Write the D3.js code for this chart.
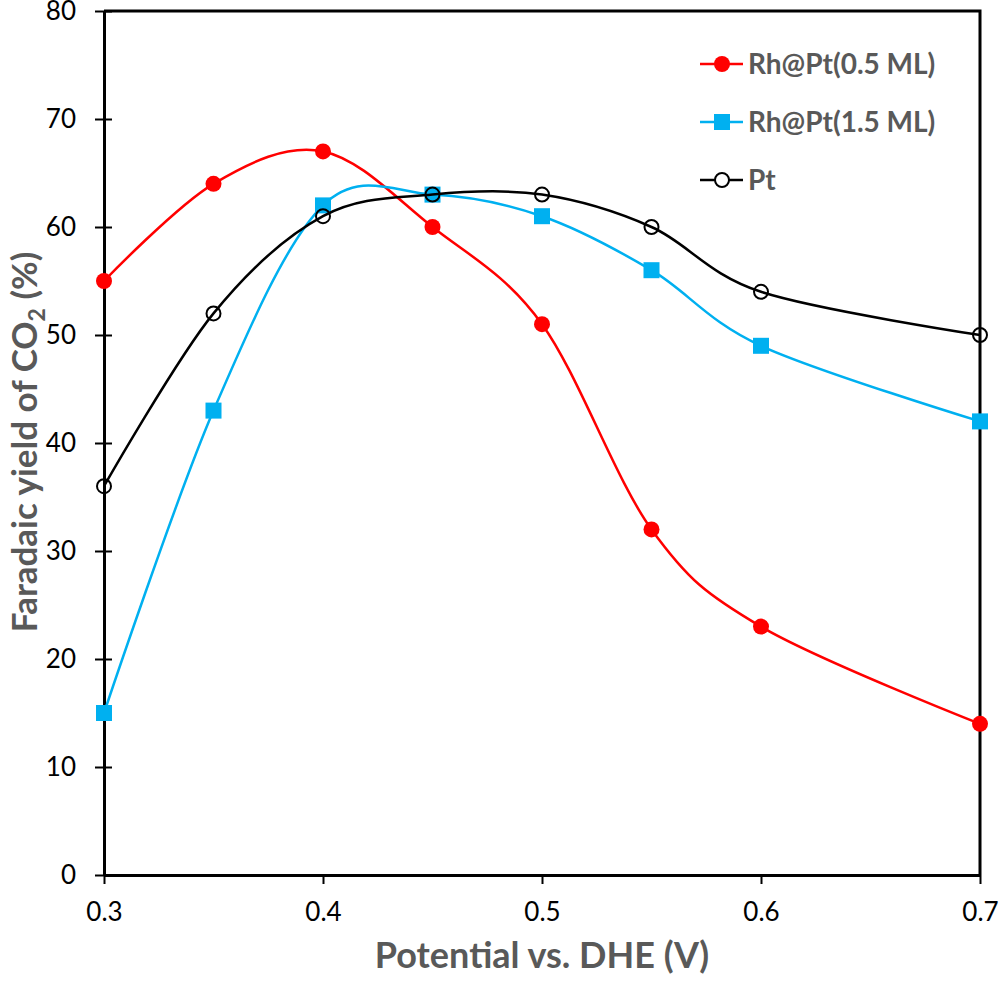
<!DOCTYPE html>
<html>
<head>
<meta charset="utf-8">
<script src="https://cdn.jsdelivr.net/npm/d3@7"></script>
<style>
  body { margin: 0; background: #fff; }
  svg { display: block; }
</style>
</head>
<body>
<div id="chart"></div>
<script>
// Data
const potentials = [0.3, 0.35, 0.4, 0.45, 0.5, 0.55, 0.6, 0.7];
const rh05 = [55, 64, 67, 60, 51, 32, 23, 14];
const rh15 = [15, 43, 62, 63, 61, 56, 49, 42];
const pt = [36, 52, 61, 63, 63, 60, 54, 50];
const xTicks = [0.3, 0.4, 0.5, 0.6, 0.7];
const yTicks = [0, 10, 20, 30, 40, 50, 60, 70, 80];
const seriesNames = ["Rh@Pt(0.5 ML)", "Rh@Pt(1.5 ML)", "Pt"];

// Sizes
const w = 999;
const h = 982;
const margin = {left: 104, top: 11, right: 19, bottom: 107};
const pw = w - margin.left - margin.right;
const ph = h - margin.top - margin.bottom;

const svg = d3.select("#chart").append("svg")
              .attr("width", w)
              .attr("height", h);

const xScale = d3.scaleLinear().domain([0.3, 0.7]).range([margin.left, margin.left + pw]);
const yScale = d3.scaleLinear().domain([0, 80]).range([margin.top + ph, margin.top]);

const font = "Lato, 'Open Sans', sans-serif";

// plot box (top and right border)
svg.append("path")
   .attr("d", "M" + margin.left + "," + margin.top + "H" + (margin.left + pw) + "V" + (margin.top + ph))
   .attr("fill", "none")
   .attr("stroke", "#000")
   .attr("stroke-width", 3);

// x axis
const xAxis = d3.axisBottom(xScale)
                .tickValues(xTicks)
                .tickFormat(d3.format(".1f"))
                .tickSizeOuter(0)
                .tickSizeInner(9)
                .tickPadding(19);
const gx = svg.append("g")
   .attr("transform", "translate(0," + (margin.top + ph) + ")")
   .call(xAxis);
gx.select(".domain").attr("stroke-width", 3);
gx.selectAll(".tick line").attr("stroke-width", 2);
gx.selectAll(".tick text")
  .style("font-family", font)
  .style("font-size", "26px")
  .attr("fill", "#000");

// y axis, ticks cross the axis line
const yAxis = d3.axisLeft(yScale)
                .tickValues(yTicks)
                .tickSizeOuter(0)
                .tickSizeInner(9)
                .tickPadding(19);
const gy = svg.append("g")
   .attr("transform", "translate(" + margin.left + ",0)")
   .call(yAxis);
gy.select(".domain").attr("stroke-width", 3);
gy.selectAll(".tick line").attr("x1", 8).attr("stroke-width", 2);
gy.selectAll(".tick text")
  .style("font-family", font)
  .style("font-size", "26px")
  .attr("fill", "#000");

// axis titles
svg.append("text")
   .attr("x", margin.left + pw / 2)
   .attr("y", 968)
   .attr("text-anchor", "middle")
   .attr("fill", "#595959")
   .style("font-family", font)
   .style("font-weight", "bold")
   .style("font-size", "36px")
   .text("Potential vs. DHE (V)");

const yTitle = svg.append("text")
   .attr("transform", "translate(37," + (margin.top + ph / 2 - 1) + ") rotate(-90)")
   .attr("text-anchor", "middle")
   .attr("fill", "#595959")
   .style("font-family", font)
   .style("font-weight", "bold")
   .style("font-size", "35px");
yTitle.append("tspan").text("Faradaic yield of CO");
yTitle.append("tspan").attr("dy", 8).style("font-size", "23px").text("2");
yTitle.append("tspan").attr("dy", -8).text(" (%)");

// lines (Excel style smoothing)
const line = d3.line()
               .x((d, i) => xScale(potentials[i]))
               .y(d => yScale(d))
               .curve(d3.curveCardinal.tension(0));

// red circles
svg.append("path")
   .attr("d", line(rh05))
   .attr("fill", "none")
   .attr("stroke", "#ff0000")
   .attr("stroke-width", 2.5);
svg.append("g").selectAll("circle")
   .data(rh05)
   .enter()
   .append("circle")
   .attr("cx", (d, i) => xScale(potentials[i]))
   .attr("cy", d => yScale(d))
   .attr("r", 8)
   .attr("fill", "#ff0000");

// blue squares
svg.append("path")
   .attr("d", line(rh15))
   .attr("fill", "none")
   .attr("stroke", "#00b0f0")
   .attr("stroke-width", 2.5);
svg.append("g").selectAll("rect")
   .data(rh15)
   .enter()
   .append("rect")
   .attr("x", (d, i) => xScale(potentials[i]) - 8)
   .attr("y", d => yScale(d) - 8)
   .attr("width", 16)
   .attr("height", 16)
   .attr("fill", "#00b0f0");

// black open circles
svg.append("path")
   .attr("d", line(pt))
   .attr("fill", "none")
   .attr("stroke", "#000")
   .attr("stroke-width", 2.5);
svg.append("g").selectAll("circle")
   .data(pt)
   .enter()
   .append("circle")
   .attr("cx", (d, i) => xScale(potentials[i]))
   .attr("cy", d => yScale(d))
   .attr("r", 7)
   .attr("fill", "none")
   .attr("stroke", "#000")
   .attr("stroke-width", 2);

// legend
const legendColors = ["#ff0000", "#00b0f0", "#000"];
const legendY = [64, 122, 180];
const legend = svg.append("g");
seriesNames.forEach((name, i) => {
    const g = legend.append("g").attr("transform", "translate(700," + legendY[i] + ")");
    g.append("line")
     .attr("x1", 0).attr("x2", 43)
     .attr("stroke", legendColors[i])
     .attr("stroke-width", 2.5);
    if (i === 0)
        g.append("circle").attr("cx", 22).attr("r", 8).attr("fill", legendColors[i]);
    else if (i === 1)
        g.append("rect").attr("x", 14).attr("y", -8).attr("width", 16).attr("height", 16).attr("fill", legendColors[i]);
    else
        g.append("circle").attr("cx", 22).attr("r", 7).attr("fill", "#fff").attr("stroke", "#000").attr("stroke-width", 2);
    g.append("text")
     .attr("x", 48)
     .attr("y", 10)
     .attr("fill", "#595959")
     .style("font-family", font)
     .style("font-weight", "bold")
     .style("font-size", "28px")
     .text(name);
});
</script>
</body>
</html>
